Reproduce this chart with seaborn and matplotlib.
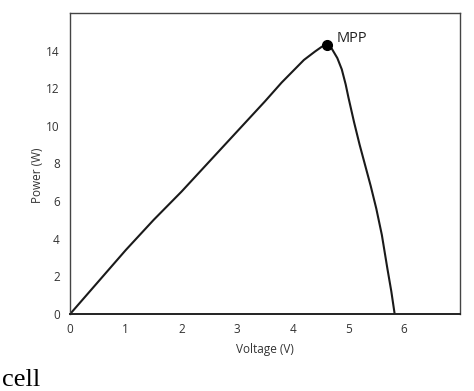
import seaborn as sns
import matplotlib.pyplot as plt
import pandas as pd

# P-V curve
voltage = [0, 0.5, 1.0, 1.5, 2.0, 2.5, 3.0, 3.5, 3.8, 4.0, 4.2, 4.4, 4.52, 4.61,
           4.7, 4.8, 4.88, 4.95, 5.0, 5.1, 5.2, 5.3, 5.4, 5.5, 5.6, 5.7, 5.77, 5.83]
power = [0, 1.7, 3.4, 5.0, 6.5, 8.1, 9.7, 11.3, 12.3, 12.9, 13.5, 13.95, 14.2, 14.3,
         14.1, 13.6, 13.0, 12.2, 11.5, 10.2, 9.0, 7.9, 6.8, 5.6, 4.2, 2.4, 1.2, 0]
mpp_v = [4.61]
mpp_p = [14.3]
x_ticks = [0, 1, 2, 3, 4, 5, 6]
y_ticks = [0, 2, 4, 6, 8, 10, 12, 14]

df = pd.DataFrame({"Voltage": voltage, "Power": power})

sns.set_style("white")
plt.rcParams['font.family'] = ['Open Sans', 'DejaVu Sans']

fig = plt.figure(figsize=(4.74, 3.91), dpi=100)
ax = fig.add_axes([0.148, 0.197, 0.822, 0.770])

sns.lineplot(data=df, x="Voltage", y="Power", ax=ax, color="#1a1a1a",
             linewidth=1.5, sort=False)
ax.plot(mpp_v, mpp_p, "o", color="black", markersize=7)
ax.text(mpp_v[0] + 0.18, mpp_p[0] + 0.35, "MPP", fontsize=10.5,
        color="#222222", va="center")

ax.set_xlim(0, 7)
ax.set_ylim(0, 16)
ax.set_xticks(x_ticks)
ax.set_yticks(y_ticks)
ax.tick_params(axis="both", direction="inout", length=3, width=0.8,
               labelsize=8.5, colors="#333333")
ax.tick_params(axis="x", pad=5)
ax.tick_params(axis="y", pad=6)
ax.set_xlabel("Voltage (V)", fontsize=8.5, color="#333333", labelpad=5)
ax.set_ylabel("Power (W)", fontsize=8.5, color="#333333")
ax.yaxis.set_label_coords(-0.068, 0.46)

for side in ["left", "right", "top"]:
    ax.spines[side].set_color("#444444")
    ax.spines[side].set_linewidth(1.0)
ax.spines["bottom"].set_color("#222222")
ax.spines["bottom"].set_linewidth(1.4)

fig.text(0.005, 0.012, "cell", fontsize=19, family="Liberation Serif",
         va="baseline", ha="left", color="black")

fig.savefig("out.png", dpi=100)
